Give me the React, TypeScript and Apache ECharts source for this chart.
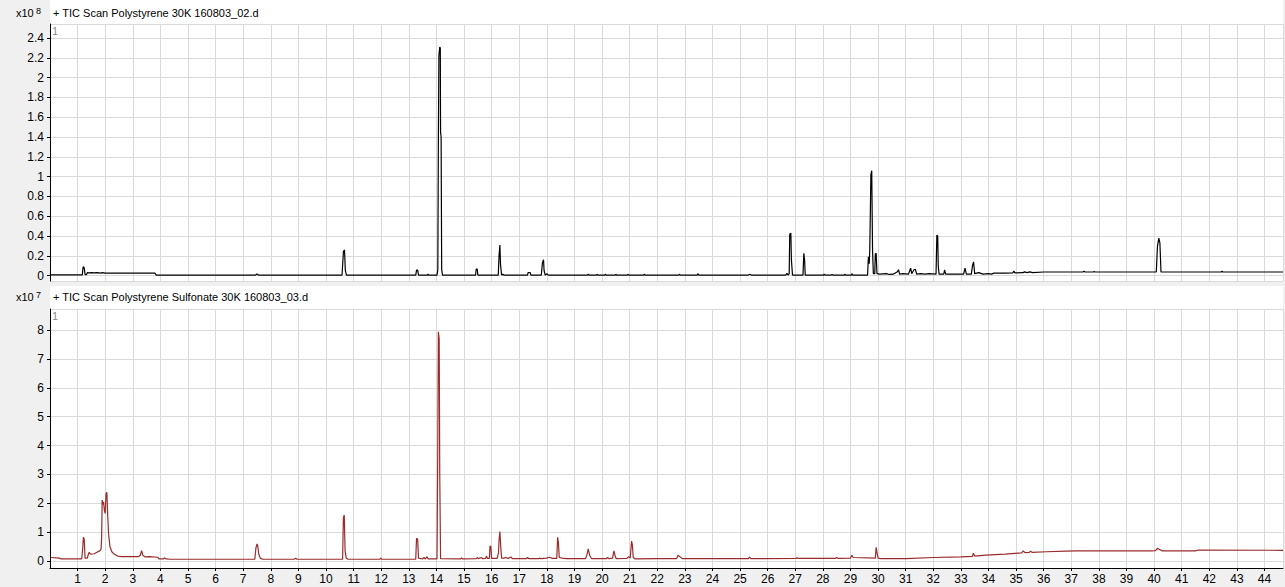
import React, { useEffect, useRef } from "react";
import * as echarts from "echarts";

// ---- axis ranges (minutes / scaled intensity) ----
const xMin = 0;
const xMax = 44.67;
const topYMin = -0.054;
const topYMax = 2.542;
const bottomYMin = -0.243;
const bottomYMax = 8.73;

// ---- texts ----
const topTitle = "+ TIC Scan Polystyrene 30K 160803_02.d";
const bottomTitle = "+ TIC Scan Polystyrene Sulfonate 30K 160803_03.d";
const topExponent = "8";
const bottomExponent = "7";
const panelIndexLabel = "1";

// ---- trace 1: Polystyrene 30K (x10^8 counts) ----
const topTrace: [number, number][] = [
  [0.03, 0.008], [1.17, 0.008], [1.2, 0.09], [1.24, 0.08], [1.27, 0.01], [1.32, 0.01],
  [1.35, 0.03], [1.42, 0.028], [1.5, 0.03], [1.6, 0.028], [1.7, 0.03], [1.85, 0.025],
  [1.9, 0.03], [2.0, 0.026], [2.3, 0.025], [2.7, 0.025], [3.2, 0.025], [3.8, 0.025],
  [3.85, 0.006], [7.45, 0.006], [7.5, 0.016], [7.55, 0.006], [10.58, 0.006], [10.63, 0.24],
  [10.67, 0.26], [10.7, 0.05], [10.74, 0.006], [13.25, 0.006], [13.28, 0.055], [13.32, 0.055],
  [13.35, 0.006], [13.68, 0.006], [13.7, 0.015], [13.72, 0.006], [14.02, 0.006], [14.05, 0.06],
  [14.07, 1.35], [14.09, 2.22], [14.12, 2.31], [14.14, 2.3], [14.15, 1.45], [14.17, 1.4],
  [14.19, 0.06], [14.22, 0.006], [15.42, 0.006], [15.44, 0.065], [15.48, 0.065], [15.5, 0.006],
  [16.24, 0.006], [16.27, 0.21], [16.3, 0.31], [16.32, 0.12], [16.34, 0.12], [16.36, 0.006],
  [16.4, 0.015], [16.44, 0.006], [17.3, 0.006], [17.32, 0.03], [17.4, 0.03], [17.42, 0.006],
  [17.8, 0.006], [17.84, 0.13], [17.88, 0.16], [17.9, 0.05], [17.94, 0.006], [18.0, 0.02],
  [18.05, 0.006], [19.48, 0.006], [19.5, 0.016], [19.53, 0.006], [19.8, 0.006], [19.82, 0.014],
  [19.85, 0.006], [20.1, 0.006], [20.12, 0.014], [20.15, 0.006], [20.48, 0.006], [20.5, 0.014],
  [20.53, 0.006], [20.92, 0.006], [20.94, 0.014], [20.97, 0.006], [21.51, 0.006], [21.53, 0.014],
  [21.56, 0.006], [22.78, 0.006], [22.8, 0.014], [22.83, 0.006], [23.45, 0.006], [23.47, 0.02],
  [23.5, 0.006], [25.3, 0.006], [25.35, 0.015], [25.4, 0.006], [26.66, 0.006], [26.7, 0.025],
  [26.74, 0.006], [26.78, 0.02], [26.8, 0.42], [26.84, 0.43], [26.86, 0.16], [26.88, 0.16],
  [26.9, 0.006], [27.28, 0.006], [27.31, 0.226], [27.34, 0.15], [27.36, 0.006], [28.03, 0.006],
  [28.05, 0.015], [28.08, 0.006], [28.3, 0.006], [28.33, 0.012], [28.36, 0.006], [28.78, 0.006],
  [28.8, 0.015], [28.83, 0.006], [29.03, 0.006], [29.05, 0.02], [29.08, 0.006], [29.62, 0.006],
  [29.65, 0.19], [29.68, 0.12], [29.7, 0.27], [29.74, 1.02], [29.77, 1.06], [29.8, 0.25],
  [29.83, 0.02], [29.88, 0.02], [29.9, 0.22], [29.93, 0.226], [29.96, 0.02], [30.05, 0.015],
  [30.3, 0.02], [30.4, 0.012], [30.55, 0.015], [30.7, 0.04], [30.74, 0.06], [30.78, 0.015],
  [30.9, 0.02], [31.1, 0.015], [31.18, 0.075], [31.22, 0.02], [31.3, 0.06], [31.35, 0.065],
  [31.4, 0.015], [31.55, 0.02], [31.7, 0.015], [31.85, 0.02], [32.1, 0.015], [32.13, 0.41],
  [32.16, 0.4], [32.18, 0.1], [32.21, 0.015], [32.38, 0.015], [32.41, 0.058], [32.45, 0.015],
  [33.1, 0.015], [33.15, 0.075], [33.2, 0.015], [33.38, 0.015], [33.42, 0.1], [33.46, 0.14],
  [33.5, 0.02], [33.65, 0.03], [33.8, 0.015], [34.0, 0.02], [34.1, 0.015], [34.2, 0.025],
  [34.6, 0.025], [34.88, 0.028], [34.92, 0.045], [34.96, 0.028], [35.25, 0.03], [35.3, 0.038],
  [35.4, 0.03], [35.5, 0.038], [35.6, 0.03], [36.0, 0.037], [37.42, 0.037], [37.46, 0.045],
  [37.5, 0.037], [37.8, 0.037], [37.83, 0.042], [37.86, 0.037], [40.08, 0.037], [40.12, 0.29],
  [40.17, 0.38], [40.21, 0.33], [40.25, 0.037], [42.43, 0.037], [42.46, 0.045], [42.49, 0.037],
  [44.67, 0.037],
];

// ---- trace 2: Polystyrene Sulfonate 30K (x10^7 counts) ----
const bottomTrace: [number, number][] = [
  [0.03, 0.12], [0.35, 0.1], [0.4, 0.07], [1.15, 0.07], [1.19, 0.5], [1.21, 0.82],
  [1.24, 0.75], [1.27, 0.1], [1.35, 0.1], [1.38, 0.2], [1.42, 0.3], [1.47, 0.24],
  [1.6, 0.25], [1.7, 0.3], [1.8, 0.35], [1.85, 0.4], [1.87, 0.8], [1.89, 2.11],
  [1.92, 1.95], [1.94, 2.05], [1.97, 1.75], [2.0, 1.65], [2.03, 2.33], [2.06, 2.38],
  [2.09, 1.59], [2.12, 0.96], [2.17, 0.5], [2.24, 0.32], [2.32, 0.24], [2.45, 0.17],
  [2.6, 0.15], [3.2, 0.15], [3.27, 0.2], [3.32, 0.36], [3.36, 0.2], [3.45, 0.14],
  [3.6, 0.15], [3.9, 0.13], [3.95, 0.07], [4.1, 0.07], [4.15, 0.1], [4.22, 0.07],
  [4.35, 0.06], [7.42, 0.06], [7.46, 0.45], [7.5, 0.59], [7.53, 0.5], [7.56, 0.25],
  [7.62, 0.1], [7.7, 0.06], [8.85, 0.06], [8.9, 0.1], [8.95, 0.06], [10.6, 0.06],
  [10.63, 1.51], [10.66, 1.59], [10.69, 0.36], [10.73, 0.1], [10.8, 0.06], [11.95, 0.06],
  [11.98, 0.1], [12.02, 0.06], [13.25, 0.06], [13.28, 0.79], [13.32, 0.75], [13.35, 0.1],
  [13.5, 0.07], [13.55, 0.12], [13.6, 0.07], [13.66, 0.15], [13.7, 0.07], [14.02, 0.07],
  [14.05, 4.0], [14.07, 7.94], [14.1, 7.7], [14.12, 3.0], [14.15, 0.08], [14.88, 0.07],
  [14.91, 0.11], [14.95, 0.07], [15.45, 0.08], [15.48, 0.12], [15.52, 0.08], [15.63, 0.12],
  [15.67, 0.08], [15.78, 0.09], [15.81, 0.17], [15.85, 0.09], [15.92, 0.09], [15.94, 0.52],
  [15.97, 0.5], [16.0, 0.09], [16.2, 0.09], [16.25, 0.3], [16.27, 0.73], [16.3, 1.02],
  [16.33, 0.5], [16.36, 0.1], [16.45, 0.1], [16.5, 0.12], [16.6, 0.09], [16.7, 0.14],
  [16.75, 0.08], [17.25, 0.08], [17.3, 0.12], [17.35, 0.08], [17.7, 0.08], [17.74, 0.1],
  [17.78, 0.08], [17.98, 0.1], [18.1, 0.13], [18.2, 0.09], [18.36, 0.09], [18.39, 0.82],
  [18.42, 0.62], [18.45, 0.12], [18.55, 0.1], [18.7, 0.08], [19.4, 0.08], [19.45, 0.2],
  [19.5, 0.42], [19.55, 0.2], [19.62, 0.08], [20.15, 0.08], [20.2, 0.12], [20.25, 0.08],
  [20.38, 0.1], [20.43, 0.35], [20.48, 0.15], [20.52, 0.08], [20.9, 0.09], [20.96, 0.15],
  [21.02, 0.1], [21.07, 0.69], [21.1, 0.55], [21.13, 0.12], [21.2, 0.07], [22.0, 0.08],
  [22.7, 0.08], [22.75, 0.2], [22.82, 0.15], [22.9, 0.08], [25.3, 0.08], [25.34, 0.13],
  [25.4, 0.08], [27.03, 0.09], [27.06, 0.11], [27.1, 0.09], [28.45, 0.09], [28.5, 0.12],
  [28.55, 0.09], [29.0, 0.1], [29.05, 0.2], [29.1, 0.12], [29.9, 0.1], [29.93, 0.47],
  [29.96, 0.3], [30.0, 0.1], [30.1, 0.08], [31.0, 0.08], [32.0, 0.12], [33.0, 0.14],
  [33.42, 0.16], [33.45, 0.27], [33.5, 0.17], [33.9, 0.2], [34.6, 0.24], [35.2, 0.28],
  [35.26, 0.35], [35.32, 0.29], [35.48, 0.3], [35.52, 0.34], [35.58, 0.3], [36.1, 0.32],
  [36.8, 0.34], [37.2, 0.35], [39.9, 0.35], [40.05, 0.36], [40.12, 0.44], [40.2, 0.4],
  [40.3, 0.35], [41.5, 0.35], [41.6, 0.38], [44.67, 0.37],
];

const FONT = "'Liberation Sans', Arial, sans-serif";
const GRID_COLOR = "#dadada";

function yAxisCfg(gridIndex: number, min: number, max: number, step: number) {
  return {
    type: "value" as const,
    gridIndex,
    min,
    max,
    minInterval: step,
    maxInterval: step,
    splitNumber: Math.round((max - min) / step),
    axisLine: { show: true, lineStyle: { color: "#000", width: 1 } },
    axisTick: { show: true, length: 3, lineStyle: { color: "#000" } },
    axisLabel: {
      color: "#000",
      fontSize: 12,
      fontFamily: FONT,
      margin: 6,
      showMinLabel: false,
      showMaxLabel: false,
    },
    splitLine: { show: true, lineStyle: { color: GRID_COLOR, width: 1 } },
  };
}

function xAxisCfg(gridIndex: number, showAxis: boolean) {
  return {
    type: "value" as const,
    gridIndex,
    min: xMin,
    max: xMax,
    interval: 1,
    axisLine: { show: showAxis, onZero: false, lineStyle: { color: "#000", width: 1 } },
    axisTick: { show: showAxis, length: 3, lineStyle: { color: "#000" } },
    axisLabel: {
      show: showAxis,
      color: "#000",
      fontSize: 12,
      fontFamily: FONT,
      margin: 5,
      showMinLabel: false,
      showMaxLabel: false,
    },
    splitLine: { show: true, lineStyle: { color: GRID_COLOR, width: 1 } },
  };
}

function headerTexts(y: number, exponent: string, title: string) {
  return [
    {
      type: "text",
      x: 16,
      y,
      style: { text: "x10", fontSize: 11, fontFamily: FONT, fill: "#000", verticalAlign: "middle" },
    },
    {
      type: "text",
      x: 36,
      y: y - 2,
      style: { text: exponent, fontSize: 9, fontFamily: FONT, fill: "#000", verticalAlign: "middle" },
    },
    {
      type: "text",
      x: 53,
      y,
      style: { text: title, fontSize: 11, fontFamily: FONT, fill: "#000", verticalAlign: "middle" },
    },
  ];
}

export default function App() {
  const ref = useRef<HTMLDivElement>(null);

  useEffect(() => {
    document.body.style.margin = "0";
    if (!ref.current) return;
    const chart = echarts.init(ref.current, undefined, { renderer: "svg" });
    chart.setOption({
      animation: false,
      backgroundColor: "#f0f0f0",
      grid: [
        { left: 50, right: 2, top: 24, height: 257, show: true, backgroundColor: "#fff", borderWidth: 0 },
        { left: 50, right: 2, top: 309, height: 259, show: true, backgroundColor: "#fff", borderWidth: 0 },
      ],
      xAxis: [xAxisCfg(0, false), xAxisCfg(1, true)],
      yAxis: [yAxisCfg(0, topYMin, topYMax, 0.2), yAxisCfg(1, bottomYMin, bottomYMax, 1)],
      series: [
        {
          type: "line",
          xAxisIndex: 0,
          yAxisIndex: 0,
          data: topTrace,
          showSymbol: false,
          symbol: "none",
          lineStyle: { color: "#000", width: 1.2 },
          z: 5,
        },
        {
          type: "line",
          xAxisIndex: 1,
          yAxisIndex: 1,
          data: bottomTrace,
          showSymbol: false,
          symbol: "none",
          lineStyle: { color: "#9b2b2b", width: 1.2 },
          z: 5,
        },
      ],
      graphic: [
        { type: "rect", shape: { x: 50, y: 0, width: 1233, height: 24 }, style: { fill: "#fff" }, silent: true },
        { type: "rect", shape: { x: 50, y: 286, width: 1233, height: 23 }, style: { fill: "#fff" }, silent: true },
        ...headerTexts(13, topExponent, topTitle),
        ...headerTexts(297, bottomExponent, bottomTitle),
        {
          type: "text",
          x: 52,
          y: 31,
          style: { text: panelIndexLabel, fontSize: 11, fontFamily: FONT, fill: "#8a8a8a", verticalAlign: "middle" },
          z: 10,
        },
        {
          type: "text",
          x: 52,
          y: 316,
          style: { text: panelIndexLabel, fontSize: 11, fontFamily: FONT, fill: "#8a8a8a", verticalAlign: "middle" },
          z: 10,
        },
      ],
    });
    return () => chart.dispose();
  }, []);

  return <div ref={ref} style={{ width: 1285, height: 587 }} />;
}
